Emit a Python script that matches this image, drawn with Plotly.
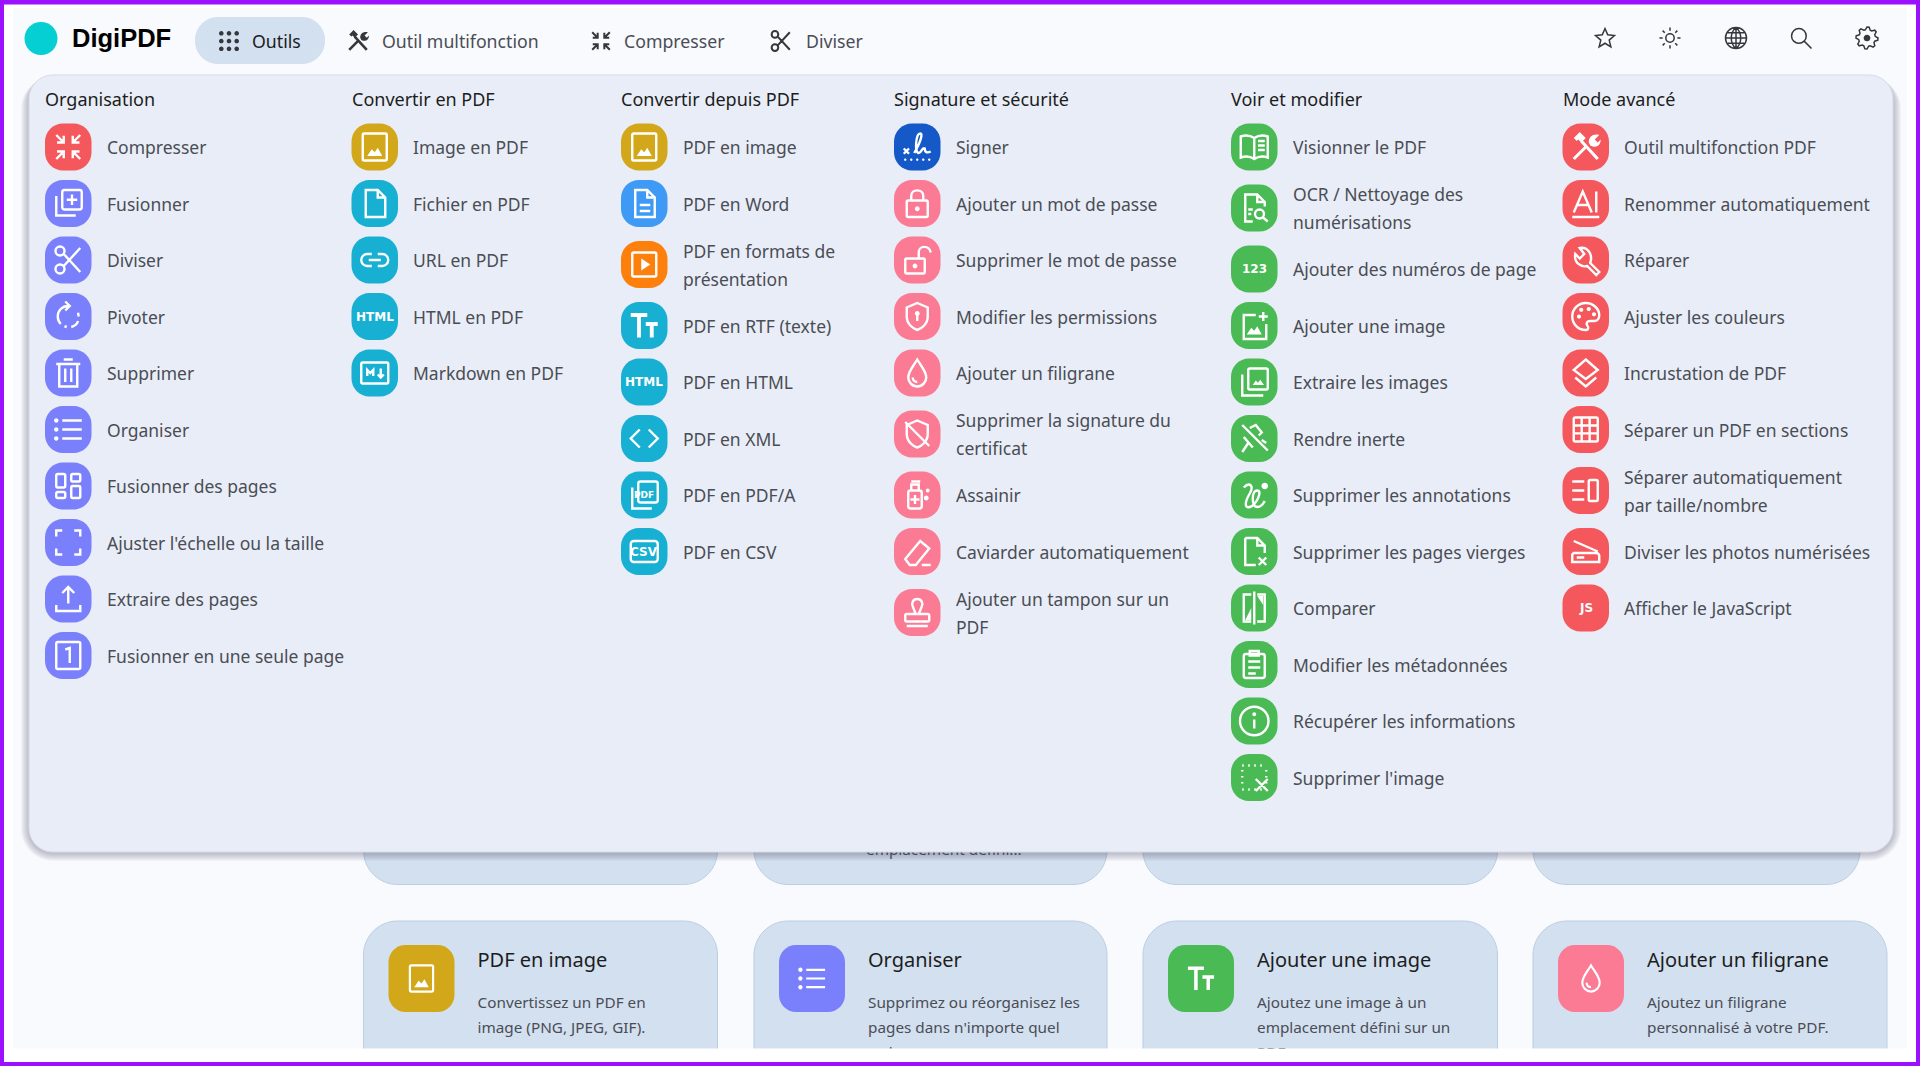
import math
import re
import plotly.graph_objects as go

# ---- menu data ----
column_titles = ["Organisation", "Convertir en PDF", "Convertir depuis PDF",
                 "Signature et sécurité", "Voir et modifier", "Mode avancé"]

organisation_labels = ["Compresser", "Fusionner", "Diviser", "Pivoter", "Supprimer", "Organiser",
                       "Fusionner des pages", "Ajuster l'échelle ou la taille", "Extraire des pages",
                       "Fusionner en une seule page"]
organisation_icons = ["compress", "merge", "scissors", "rotate", "trash", "list", "dash", "fit", "upload", "one"]
organisation_colors = ["red"] + ["indigo"] * 9

to_pdf_labels = ["Image en PDF", "Fichier en PDF", "URL en PDF", "HTML en PDF", "Markdown en PDF"]
to_pdf_icons = ["image", "file", "link", "html", "markdown"]
to_pdf_colors = ["gold"] + ["teal"] * 4

from_pdf_labels = ["PDF en image", "PDF en Word", "PDF en formats de\nprésentation", "PDF en RTF (texte)",
                   "PDF en HTML", "PDF en XML", "PDF en PDF/A", "PDF en CSV"]
from_pdf_icons = ["image", "doc", "slides", "tt", "html", "xml", "pdfa", "csv"]
from_pdf_colors = ["gold", "blue", "orange"] + ["teal"] * 5

security_labels = ["Signer", "Ajouter un mot de passe", "Supprimer le mot de passe", "Modifier les permissions",
                   "Ajouter un filigrane", "Supprimer la signature du\ncertificat", "Assainir",
                   "Caviarder automatiquement", "Ajouter un tampon sur un\nPDF"]
security_icons = ["sign", "lock", "unlock", "shield", "drop", "shieldoff", "bottle", "eraser", "stamp"]
security_colors = ["navy"] + ["pink"] * 8

view_labels = ["Visionner le PDF", "OCR / Nettoyage des\nnumérisations", "Ajouter des numéros de page",
               "Ajouter une image", "Extraire les images", "Rendre inerte", "Supprimer les annotations",
               "Supprimer les pages vierges", "Comparer", "Modifier les métadonnées",
               "Récupérer les informations", "Supprimer l'image"]
view_icons = ["book", "ocr", "n123", "addimg", "pdfimgs", "inert", "scribble", "blank", "compare", "clip", "info", "rmimg"]
view_colors = ["green"] * 12

advanced_labels = ["Outil multifonction PDF", "Renommer automatiquement", "Réparer", "Ajuster les couleurs",
                   "Incrustation de PDF", "Séparer un PDF en sections", "Séparer automatiquement\npar taille/nombre",
                   "Diviser les photos numérisées", "Afficher le JavaScript"]
advanced_icons = ["tools", "ai", "wrench", "palette", "layers", "grid", "autosplit", "scanner", "js"]
advanced_colors = ["red"] * 9

column_labels = [organisation_labels, to_pdf_labels, from_pdf_labels, security_labels, view_labels, advanced_labels]
column_icons = [organisation_icons, to_pdf_icons, from_pdf_icons, security_icons, view_icons, advanced_icons]
column_colors = [organisation_colors, to_pdf_colors, from_pdf_colors, security_colors, view_colors, advanced_colors]
column_left = [45, 351.5, 621, 894, 1231, 1562.5]

nav_labels = ["Outils", "Outil multifonction", "Compresser", "Diviser"]
nav_text_x = [250, 380, 622, 803.5]
nav_icons = ["dots", "tools", "compress", "scissors"]
nav_icon_x = [229, 358, 601, 781]
right_icons = ["star", "sun", "globe", "search", "gear"]
right_icon_x = [1605, 1670, 1736, 1801, 1867]

card_titles = ["PDF en image", "Organiser", "Ajouter une image", "Ajouter un filigrane"]
card_lines = [["Convertissez un PDF en", "image (PNG, JPEG, GIF)."],
              ["Supprimez ou réorganisez les", "pages dans n'importe quel", "ordre."],
              ["Ajoutez une image à un", "emplacement défini sur un", "PDF."],
              ["Ajoutez un filigrane", "personnalisé à votre PDF."]]
card_icons = ["image", "list", "tt", "drop"]
card_colors = ["gold", "indigo", "green", "pink"]
card_left = [363.5, 754, 1143, 1533]
card_right = [717.5, 1107, 1497.5, 1887]
upper_card_right = [717.5, 1107, 1497.5, 1860]

palette = {"red": "#f4575c", "indigo": "#7a80fb", "gold": "#d2a81a", "teal": "#17b0d2", "blue": "#3f9af5",
           "orange": "#fd7f0c", "navy": "#1558c8", "pink": "#fb7a94", "green": "#4aba55"}

PAGE = "#f8fafe"
PANEL = "#e9edf7"
CARD = "#d3e0f0"
CARD_LINE = "#bccee3"
DARK = "#1b1d21"
TEXT = "#4a4d55"
PURPLE = "#9b10ff"
FONT = "Noto Sans"


def circ(cx, cy, r):
    k = r * 0.5523
    return (f"M{cx - r} {cy} C{cx - r} {cy - k} {cx - k} {cy - r} {cx} {cy - r} "
            f"C{cx + k} {cy - r} {cx + r} {cy - k} {cx + r} {cy} "
            f"C{cx + r} {cy + k} {cx + k} {cy + r} {cx} {cy + r} "
            f"C{cx - k} {cy + r} {cx - r} {cy + k} {cx - r} {cy} Z ")


def rrect(x0, y0, x1, y1, r):
    k = r * 0.45
    return (f"M{x0 + r} {y0} L{x1 - r} {y0} C{x1 - k} {y0} {x1} {y0 + k} {x1} {y0 + r} "
            f"L{x1} {y1 - r} C{x1} {y1 - k} {x1 - k} {y1} {x1 - r} {y1} "
            f"L{x0 + r} {y1} C{x0 + k} {y1} {x0} {y1 - k} {x0} {y1 - r} "
            f"L{x0} {y0 + r} C{x0} {y0 + k} {x0 + k} {y0} {x0 + r} {y0} Z ")


def gear_path():
    pts = []
    for i in range(32):
        a = i * math.pi / 16
        r = 10.5 if i % 4 in (0, 1) else 8
        pts.append(f"{12 + r * math.cos(a):.2f} {12 + r * math.sin(a):.2f}")
    return "M" + " L".join(pts) + " Z "


MOUNTAIN = "M7 18 L10 13.5 L12 15.5 L14 12.5 L17 18 Z "
FILE = "M6 3 L14 3 L19 8 L19 21 L6 21 Z M14 3 L14 8 L19 8 "
SHIELD = "M12 3 L19 6 L19 12 C19 17 15 20 12 21 C9 20 5 17 5 12 L5 6 Z "
dotted = "".join(f"M{x} 4 L{x + 1} 4 M{x} 20 L{x + 1} 20 " for x in (4, 8, 12, 16)) + \
         "".join(f"M4 {y} L4 {y + 1} M20 {y} L20 {y + 1} " for y in (7, 11, 15))

# stroke path, filled path, in a 24x24 box
glyphs = {
    "compress": ("M4 4 L9 9 M9 4.5 L9 9 L4.5 9 M20 4 L15 9 M15 4.5 L15 9 L19.5 9 M4 20 L9 15 M4.5 15 L9 15 L9 19.5 M20 20 L15 15 M19.5 15 L15 15 L15 19.5", ""),
    "merge": (rrect(8, 3, 21, 16, 1.5) + "M14.5 6 L14.5 13 M11 9.5 L18 9.5 M4 7 L4 20 L17 20", ""),
    "scissors": (circ(6.5, 6, 3) + circ(6.5, 18, 3) + "M9 8 L20 20 M9 16 L20 4", ""),
    "rotate": ("M12 5 C8 5 5 8 5 12 C5 14 5.5 15.5 7 17 M9.5 18.5 L11 19 M14 19 C16 18.5 18 17 18.5 15 M19 12 L18.5 9.5 M10 2 L13 5 L10 8", ""),
    "trash": ("M6 6 L6 21 L18 21 L18 6 Z M4 6 L20 6 M9 3 L15 3 M10 9 L10 18 M14 9 L14 18", ""),
    "list": ("M8 6 L21 6 M8 12 L21 12 M8 18 L21 18", circ(4, 6, 1.5) + circ(4, 12, 1.5) + circ(4, 18, 1.5)),
    "dash": (rrect(4, 4, 10, 13, 1) + rrect(14, 4, 20, 9, 1) + rrect(4, 16, 10, 20, 1) + rrect(14, 12, 20, 20, 1), ""),
    "fit": ("M4 8 L4 4 L8 4 M16 4 L20 4 L20 8 M4 16 L4 20 L8 20 M16 20 L20 20 L20 16", ""),
    "upload": ("M12 15 L12 4 M8 8 L12 4 L16 8 M4 16 L4 20 L20 20 L20 16", ""),
    "one": (rrect(4, 3, 20, 21, 1) + "M10 8 L13 7 L13 17", ""),
    "image": (rrect(4, 3, 20, 21, 1), MOUNTAIN),
    "file": (FILE, ""),
    "link": ("M10 8 L7 8 C4.8 8 3 9.8 3 12 C3 14.2 4.8 16 7 16 L10 16 M14 8 L17 8 C19.2 8 21 9.8 21 12 C21 14.2 19.2 16 17 16 L14 16 M8 12 L16 12", ""),
    "html": ("", ""),
    "markdown": (rrect(3, 5, 21, 19, 1) + "M7 14 L7 10 L9 12 L11 10 L11 14 M16 9 L16 15 M14 13 L16 15 L18 13", ""),
    "doc": (FILE + "M9 13 L16 13 M9 17 L16 17", ""),
    "slides": (rrect(4, 4, 20, 20, 1), "M10 8 L16 12 L10 16 Z"),
    "tt": ("M3 5 L14 5 M8.5 5 L8.5 20 M13 11 L21 11 M17 11 L17 20", ""),
    "xml": ("M9 6 L3 12 L9 18 M15 6 L21 12 L15 18", ""),
    "pdfa": ("M4 7 L4 21 L17 21 " + rrect(8, 3, 21, 17, 1.5), ""),
    "csv": (rrect(3, 5, 21, 19, 2), ""),
    "sign": ("M3 13 L6.5 16.5 M6.5 13 L3 16.5 M10 16 C14 9 16 3 14 3 C11 3 10 16 13 16 C15 16 15 12 17 13 C17 16 19 16 21 15",
             "".join(circ(x, 20.5, 0.8) for x in (4, 8, 12, 16, 20))),
    "lock": (rrect(5, 10, 19, 21, 1) + "M8 10 L8 7 C8 2 16 2 16 7 L16 10", circ(12, 15.5, 1.6)),
    "unlock": (rrect(4, 11, 17, 21, 1) + "M13 11 L13 7 C13 2 20 2 21 7", circ(10.5, 16, 1.6)),
    "shield": (SHIELD + "M12 10 L12 15", circ(12, 10, 1.6)),
    "drop": ("M12 3 C15 8 18 11 18 15 C18 18 15.5 21 12 21 C8.5 21 6 18 6 15 C6 11 9 8 12 3 Z M9 15 C9 17 10.5 18 12 18", ""),
    "shieldoff": (SHIELD + "M4 4 L20 20", ""),
    "bottle": (rrect(6, 9, 15, 21, 1.5) + "M8 9 L8 5 L13 5 L13 9 M8 3 L14 3 M10.5 12 L10.5 18 M7.5 15 L13.5 15", circ(19, 9, 1.3) + circ(18, 14, 1.6)),
    "eraser": ("M4 17 L14 5 L20 10 L11 21 L7 21 Z M15 21 L21 21", ""),
    "stamp": ("M12 3 C9 3 8 6 9 8 L11 13 L13 13 L15 8 C16 6 15 3 12 3 Z " + rrect(4, 13, 20, 18, 1) + "M5 21 L19 21", ""),
    "book": ("M12 6 C9 4 6 4 3 5 L3 19 C6 18 9 18 12 20 C15 18 18 18 21 19 L21 5 C18 4 15 4 12 6 Z M12 6 L12 20 M14.5 8 L19 8 M14.5 11 L19 11 M14.5 14 L19 14", ""),
    "ocr": ("M11 21 L6 21 L6 3 L14 3 L19 8 L19 11 M14 3 L14 8 L19 8 M8 13 L11 13 M8 16 L10 16 " + circ(15.5, 16, 3) + "M18 18.5 L21 21", ""),
    "n123": ("", ""),
    "addimg": ("M13 5 L5 5 L5 21 L20 21 L20 11 M18 3 L18 9 M15 6 L21 6", MOUNTAIN),
    "pdfimgs": ("M4 7 L4 21 L18 21 " + rrect(8, 3, 21, 17, 1), "M11 14 L13 11 L14.5 12.5 L16 10.5 L18.5 14 Z"),
    "inert": ("M4 3 L21 20 M9 5 L13 3 L17 8 L15 10 M5 11 L11 18 M4 21 L8 15 M17 13 L20 15", ""),
    "scribble": ("M5 7 C9 3 12 6 9 11 C6 16 5 21 9 20 C13 19 18 9 14 9 C10 9 10 20 14 20 C16 20 18 18 19 16", circ(19, 6, 2.2)),
    "blank": ("M6 3 L14 3 L19 8 L19 13 M14 3 L14 8 L19 8 M6 3 L6 21 L13 21 M15 16 L20 21 M20 16 L15 21", ""),
    "compare": ("M10 3 L5 3 L5 21 L10 21 M14 3 L19 3 L19 21 L14 21 M12 1 L12 23", "M10 12 L10 20 L6 20 Z M14 4 L18 4 L18 10 Z"),
    "clip": (rrect(5, 5, 19, 21, 1.5) + "M9 3 L15 3 L15 6 L9 6 Z M8 10 L16 10 M8 14 L16 14 M8 18 L13 18", ""),
    "info": (circ(12, 12, 9.5) + "M12 11 L12 17", circ(12, 7.5, 1.3)),
    "rmimg": (dotted + "M13 13 L21 21 M21 13 L13 21", ""),
    "tools": ("M4 20 L13 11 M20 20 L9 8",
              "M4 6 L8 2 L12 6 L9 9 L7 7 L6 8 Z M14 9 C14 5 17 3 21 4 L18 7 L20 9 L22 7 C22 11 19 13 15 11 Z"),
    "ai": ("M4 18 L10 4 L16 18 M6 13 L14 13 M19 4 L19 18 M3 21 L21 21", ""),
    "wrench": ("M15 14 L21 20 L19 22 L13 16 C9 17 4 14 5 8 L8 11 L11 8 L8 4 C13 3 17 8 15 14 Z", ""),
    "palette": ("M12 3 C7 3 3 7 3 12 C3 17 7 21 12 21 C14 21 14 19 13 18 C12 16 13 15 15 15 L18 15 C20 15 21 13 21 11 C21 7 17 3 12 3 Z",
                circ(7.5, 12, 1.4) + circ(9, 7.5, 1.4) + circ(14, 7, 1.4) + circ(17.5, 10.5, 1.4)),
    "layers": ("M12 3 L20 10 L12 16 L4 10 Z M5 15 L12 21 L19 15", ""),
    "grid": (rrect(4, 4, 20, 20, 1) + "M4 9.3 L20 9.3 M4 14.6 L20 14.6 M9.3 4 L9.3 20 M14.6 4 L14.6 20", ""),
    "autosplit": ("M3 6 L11 6 M3 12 L11 12 M3 18 L11 18 " + rrect(14, 5, 20, 19, 1), ""),
    "scanner": ("M4 5 L20 12 M4 13 L19 13 C20 13 21 14 21 15 L21 19 L3 19 L3 14 Z M6 16 L11 16", ""),
    "js": ("", ""),
    "dots": ("", "".join(circ(x, y, 2.1) for x in (5, 12, 19) for y in (5, 12, 19))),
    "star": ("M12 3 L14.6 9 L21 9.6 L16 14 L17.6 20.5 L12 17 L6.4 20.5 L8 14 L3 9.6 L9.4 9 Z", ""),
    "sun": (circ(12, 12, 4) + "M12 2 L12 5 M12 19 L12 22 M2 12 L5 12 M19 12 L22 12 M5 5 L7 7 M17 17 L19 19 M5 19 L7 17 M17 7 L19 5", ""),
    "globe": (circ(12, 12, 10) + "M2 12 L22 12 M12 2 L12 22 M4 7 L20 7 M4 17 L20 17 M12 2 C6 7 6 17 12 22 M12 2 C18 7 18 17 12 22", ""),
    "search": (circ(10, 10, 7) + "M15 15 L22 22", ""),
    "gear": (gear_path(), circ(12, 12, 3.2)),
}
glyph_text = {"html": ("HTML", 12), "n123": ("123", 12), "js": ("JS", 12), "csv": ("CSV", 12), "pdfa": ("PDF", 9)}
thick_glyphs = {"tt": 1.6, "tools": 1.3}


def place(path, cx, cy, scale):
    # move a 24x24 glyph path to its spot on the page
    count = [0]

    def repl(m):
        v = float(m.group(0))
        count[0] += 1
        if count[0] % 2 == 1:
            return f"{cx + (v - 12) * scale:.2f}"
        return f"{cy + (v - 12) * scale:.2f}"
    return re.sub(r"-?\d+\.?\d*", repl, path)


shapes = []
annotations = []


def add_shape(path, fill=None, line=None, width=0, layer="above", opacity=1):
    shapes.append(dict(type="path", path=path, fillcolor=fill or "rgba(0,0,0,0)", opacity=opacity, layer=layer,
                       line=dict(color=line or "rgba(0,0,0,0)", width=width)))


def add_label(x, y, text, size, color, anchor="left", family=FONT, bold=False):
    t = f"<b>{text}</b>" if bold else text
    annotations.append(dict(x=x, y=y, text=t, showarrow=False, xanchor=anchor, yanchor="middle",
                            font=dict(family=family, size=size, color=color)))


def add_glyph(name, cx, cy, scale, color, width, layer="above"):
    stroke, fill = glyphs[name]
    if stroke:
        add_shape(place(stroke, cx, cy, scale), line=color, width=width * thick_glyphs.get(name, 1), layer=layer)
    if fill:
        add_shape(place(fill, cx, cy, scale), fill=color, layer=layer)
    if name in glyph_text:
        text, size = glyph_text[name]
        add_label(cx, cy, text, size, color, anchor="center", family="DejaVu Sans", bold=True)


# page and cards under the panel
add_shape("M0 0 L1920 0 L1920 1066 L0 1066 Z", fill="#ffffff", layer="below")
add_shape("M13 8 L1907 8 L1907 1060 L13 1060 Z", fill=PAGE, layer="below")
for left, right in zip(card_left, upper_card_right):
    add_shape(rrect(left, 700, right, 884.5, 34), fill=CARD, line=CARD_LINE, width=1, layer="below")
for left, right, color, icon in zip(card_left, card_right, card_colors, card_icons):
    add_shape(rrect(left, 921, right, 1110, 34), fill=CARD, line=CARD_LINE, width=1, layer="below")
    add_shape(rrect(left + 25, 945, left + 91, 1012, 17), fill=palette[color], layer="below")
    add_glyph(icon, left + 58, 978.5, 1.45, "#ffffff", 2.2, layer="below")

# text of the cards, it runs under the panel and the bottom strip
card_x = []
card_y = []
card_text = []
for left, lines in zip(card_left, card_lines):
    for i, line in enumerate(lines):
        card_x.append(left + 114)
        card_y.append(1004 + i * 25)
        card_text.append(line)
partial_x = [card_left[1] + 112]
partial_y = [851.5]
partial_text = ["emplacement défini..."]

fig = go.Figure()
fig.add_trace(go.Scatter(x=card_x + partial_x, y=card_y + partial_y, text=card_text + partial_text, mode="text",
                         textposition="middle right", cliponaxis=False, hoverinfo="skip", showlegend=False,
                         textfont=dict(family=FONT, size=15.3, color=TEXT)))
fig.add_trace(go.Scatter(x=[left + 114 for left in card_left], y=[961.5] * 4, text=card_titles, mode="text",
                         textposition="middle right", cliponaxis=False, hoverinfo="skip", showlegend=False,
                         textfont=dict(family=FONT, size=20, color=DARK)))

# frame over the clipped page bottom
add_shape("M0 1048.5 L1920 1048.5 L1920 1066 L0 1066 Z", fill="#ffffff")

# panel with a soft shadow
for i in range(8, 0, -1):
    add_shape(rrect(29 - i, 75 + 2, 1893 + i, 852 + i + 1, 24 + i), fill="#3a4256", opacity=0.045)
add_shape(rrect(29, 75, 1893, 852, 24), fill=PANEL, line="#d5dbe8", width=1)

# top bar
add_shape(circ(41, 38.5, 16.5), fill="#05cfd2")
add_label(70, 38, "DigiPDF", 25.5, "#000000", family="Liberation Sans", bold=True)
add_shape(rrect(195, 17, 325, 64, 23), fill=CARD)
for label, tx, icon, ix in zip(nav_labels, nav_text_x, nav_icons, nav_icon_x):
    add_glyph(icon, ix, 41, 1.1, "#34373c", 2)
    add_label(tx, 41, label, 17.7, DARK if label == "Outils" else TEXT)
for icon, ix in zip(right_icons, right_icon_x):
    add_glyph(icon, ix, 38, 1.05, "#34373c", 1.5)

# panel columns
for title, left, labels, icons, colors in zip(column_titles, column_left, column_labels, column_icons, column_colors):
    add_label(left - 2, 99, title, 18, DARK)
    top = 118.75
    for label, icon, color in zip(labels, icons, colors):
        lines = label.split("\n")
        h = 56.5 if len(lines) == 1 else 65.5
        cy = top + h / 2
        top += h
        add_shape(rrect(left, cy - 23.5, left + 46.5, cy + 23.5, 18), fill=palette[color])
        add_glyph(icon, left + 23.25, cy, 1.5, "#ffffff", 2.4)
        for i, line in enumerate(lines):
            add_label(left + 59.5, cy + (i - (len(lines) - 1) / 2) * 28, line, 17.5, TEXT)

# purple frame
add_shape("M0 0 L1920 0 L1920 4.5 L0 4.5 Z", fill=PURPLE)
add_shape("M0 1062 L1920 1062 L1920 1066 L0 1066 Z", fill=PURPLE)
add_shape("M0 0 L4 0 L4 1066 L0 1066 Z", fill=PURPLE)
add_shape("M1916 0 L1920 0 L1920 1066 L1916 1066 Z", fill=PURPLE)

fig.update_layout(
    width=1920, height=1066, margin=dict(l=0, r=0, t=0, b=0),
    paper_bgcolor="#ffffff", plot_bgcolor="#ffffff", showlegend=False,
    xaxis=dict(range=[0, 1920], visible=False, fixedrange=True),
    yaxis=dict(range=[1066, 0], visible=False, fixedrange=True),
    shapes=shapes, annotations=annotations,
)
# the page body has a default margin that would push the figure off its spot
fig.write_html("out.html", config=dict(displayModeBar=False), post_script="document.body.style.margin='0';")
